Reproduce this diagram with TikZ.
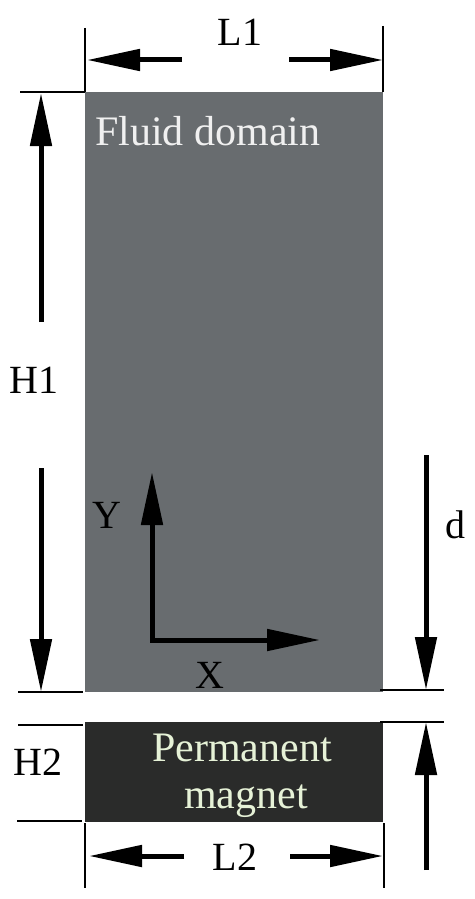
\documentclass[tikz,border=0pt]{standalone}
\usepackage{fontspec}
\setmainfont{Liberation Serif}
\usetikzlibrary{arrows.meta}
\definecolor{fluidgray}{RGB}{104,108,111}
\definecolor{magnetdark}{RGB}{42,43,42}
\definecolor{magtext}{RGB}{230,242,215}
\definecolor{fluidtext}{RGB}{240,240,240}
\tikzset{
  dimarrow/.style={line width=5pt,-{Triangle[length=53pt,width=21pt]}},
  extline/.style={line width=2pt},
  lbl/.style={anchor=base,inner sep=0pt,font=\fontsize{40}{42}\selectfont},
  bigtxt/.style={inner sep=0pt,font=\fontsize{42}{46}\selectfont}
}
\begin{document}
\begin{tikzpicture}[x=1pt,y=-1pt]
\useasboundingbox (0,0) rectangle (474,899);
% regions
\node[fill=fluidgray,minimum width=298pt,minimum height=600pt,inner sep=0pt,anchor=north west] (fluid) at (85,92) {};
\node[fill=magnetdark,minimum width=298pt,minimum height=100pt,inner sep=0pt,anchor=north west] (magnet) at (85,722) {};
\node[bigtxt,anchor=base west,text=fluidtext] (ftxt) at (95,145) {Fluid domain};
\node[bigtxt,anchor=base,text=magtext] (mtxt1) at (242,761) {Permanent};
\node[bigtxt,anchor=base,text=magtext] (mtxt2) at (246,808) {magnet};
% labels
\node[lbl] (L1) at (240,46) {L1};
\node[lbl] (H1) at (34,393) {H1};
\node[lbl] (d) at (455,538) {d};
\node[lbl] (Y) at (107,528) {Y};
\node[lbl] (X) at (210,688) {X};
\node[lbl] (H2) at (38,775) {H2};
\node[lbl] (L2) at (235,870) {L2};
% coordinates
\coordinate (e1a) at (85,28); \coordinate (e1b) at (85,92);
\coordinate (e2a) at (383,26); \coordinate (e2b) at (383,92);
\coordinate (e3a) at (20,92); \coordinate (e3b) at (85,92);
\coordinate (e4a) at (18,692); \coordinate (e4b) at (83,692);
\coordinate (e5a) at (380,690); \coordinate (e5b) at (444,690);
\coordinate (e6a) at (380,722); \coordinate (e6b) at (444,722);
\coordinate (e7a) at (18,725); \coordinate (e7b) at (83,725);
\coordinate (e8a) at (17,821); \coordinate (e8b) at (82,821);
\coordinate (e9a) at (85,823); \coordinate (e9b) at (85,888);
\coordinate (e10a) at (384,823); \coordinate (e10b) at (384,888);
\foreach \i in {1,...,10} \draw[extline] (e\i a) -- (e\i b);
% dimension arrows
\coordinate (l1s) at (182,60); \coordinate (l1t) at (87,60);
\coordinate (r1s) at (289,60); \coordinate (r1t) at (383,60);
\draw[dimarrow] (l1s) -- (l1t);
\draw[dimarrow] (r1s) -- (r1t);
\coordinate (h1us) at (41,322); \coordinate (h1ut) at (41,93);
\coordinate (h1ds) at (41,468); \coordinate (h1dt) at (41,692);
\draw[dimarrow] (h1us) -- (h1ut);
\draw[dimarrow] (h1ds) -- (h1dt);
\coordinate (ds) at (426,455); \coordinate (dt) at (426,690);
\draw[dimarrow] (ds) -- (dt);
\coordinate (ms) at (426,870); \coordinate (mt) at (426,722);
\draw[dimarrow] (ms) -- (mt);
\coordinate (l2s) at (184,856); \coordinate (l2t) at (89,856);
\coordinate (r2s) at (290,856); \coordinate (r2t) at (383,856);
\draw[dimarrow] (l2s) -- (l2t);
\draw[dimarrow] (r2s) -- (r2t);
% axes
\coordinate (O) at (152,640);
\coordinate (Yt) at (152,472);
\coordinate (Xt) at (320,640);
\draw[line width=5pt,{Triangle[length=53pt,width=21pt]}-{Triangle[length=53pt,width=21pt]}] (Yt) -- (O) -- (Xt);
\end{tikzpicture}
\end{document}
